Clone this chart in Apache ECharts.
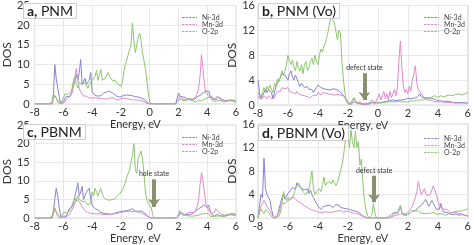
<!DOCTYPE html>
<html>
<head>
<meta charset="utf-8">
<script src="https://cdn.jsdelivr.net/npm/echarts@6/dist/echarts.min.js"></script>
<style>
  html, body { margin: 0; padding: 0; background: #fff; }
  #chart { width: 474px; height: 245px; }
</style>
</head>
<body>
<div id="chart"></div>
<script>
// energy grid (eV), shared by every curve
const energy = [
  -8, -7.9, -7.8, -7.7, -7.6, -7.5, -7.4, -7.3, -7.2, -7.1,
  -7, -6.9, -6.8, -6.7, -6.6, -6.5, -6.4, -6.3, -6.2, -6.1,
  -6, -5.9, -5.8, -5.7, -5.6, -5.5, -5.4, -5.3, -5.2, -5.1,
  -5, -4.9, -4.8, -4.7, -4.6, -4.5, -4.4, -4.3, -4.2, -4.1,
  -4, -3.9, -3.8, -3.7, -3.6, -3.5, -3.4, -3.3, -3.2, -3.1,
  -3, -2.9, -2.8, -2.7, -2.6, -2.5, -2.4, -2.3, -2.2, -2.1,
  -2, -1.9, -1.8, -1.7, -1.6, -1.5, -1.4, -1.3, -1.2, -1.1,
  -1, -0.9, -0.8, -0.7, -0.6, -0.5, -0.4, -0.3, -0.2, -0.1,
  0, 0.1, 0.2, 0.3, 0.4, 0.5, 0.6, 0.7, 0.8, 0.9,
  1, 1.1, 1.2, 1.3, 1.4, 1.5, 1.6, 1.7, 1.8, 1.9,
  2, 2.1, 2.2, 2.3, 2.4, 2.5, 2.6, 2.7, 2.8, 2.9,
  3, 3.1, 3.2, 3.3, 3.4, 3.5, 3.6, 3.7, 3.8, 3.9,
  4, 4.1, 4.2, 4.3, 4.4, 4.5, 4.6, 4.7, 4.8, 4.9,
  5, 5.1, 5.2, 5.3, 5.4, 5.5, 5.6, 5.7, 5.8, 5.9,
  6
];

// a, PNM
const niA = [
  0, 0, 0, 0, 0, 0, 0, 0, 0, 0,
  0, 0, 0, 2, 10, 6.5, 7, 2, 0.3, 0,
  0.5, 1, 2, 2.5, 1.8, 2, 3, 4.5, 6, 7.5,
  6, 8, 11.3, 5, 5.5, 6.5, 5, 4.5, 6, 8,
  3, 2.5, 2.2, 2.5, 2, 2.3, 2.1, 2.5, 2.8, 3,
  3, 3.2, 3.3, 3, 2.8, 2.5, 2.3, 2, 1.8, 1.7,
  1.8, 2, 2.2, 2, 2.3, 2.1, 2.2, 2.4, 2.1, 2,
  1.8, 2, 1.8, 1.6, 1.5, 1.3, 1.2, 0.9, 0.5, 0.2,
  0, 0, 0, 0, 0, 0, 0, 0, 0, 0,
  0, 0, 0, 0, 0, 0, 0, 0, 0, 0.5,
  2.8, 2, 1.5, 1.8, 2, 1.6, 1.5, 1.2, 1, 0.9,
  0.8, 1.2, 1.5, 1.8, 2, 2.2, 2.5, 2.8, 3, 3.2,
  3.5, 3.3, 2, 1.6, 1.5, 1.2, 1, 1.5, 1.8, 1.5,
  1.2, 1, 0.9, 0.8, 0.8, 0.9, 1, 1.1, 1, 0.8,
  0.5
];
const mnA = [
  0, 0, 0, 0, 0, 0, 0, 0, 0, 0,
  0, 0, 0, 1.2, 2.2, 1.5, 1.2, 0.5, 0, 0,
  0.2, 0.5, 0.8, 1.5, 1.2, 2, 3, 5, 7, 9,
  6, 4, 3, 2.5, 2, 2.5, 2, 1.6, 1.5, 1.8,
  1.5, 1.3, 1.6, 1.4, 1.5, 1.3, 1.4, 1.2, 1.3, 1.1,
  1.2, 1.3, 1.5, 1.4, 1.6, 1.5, 1.3, 1.1, 1, 1.1,
  1.3, 1.4, 1.5, 1.6, 1.4, 1.3, 1.2, 1.3, 1.1, 1,
  1, 1.1, 1, 0.9, 0.8, 0.8, 0.6, 0.4, 0.2, 0.1,
  0, 0, 0, 0, 0, 0, 0, 0, 0, 0,
  0, 0, 0, 0, 0, 0, 0, 0, 0, 0.3,
  1, 2, 1.5, 1.2, 1, 1.1, 1.2, 1.4, 1.5, 1.3,
  1.2, 1.3, 1.5, 2.5, 4, 7, 12.5, 9, 5, 3,
  2.5, 2, 1.5, 1.2, 1, 1.1, 1.2, 2, 1.5, 1.2,
  1, 0.9, 0.8, 0.9, 1, 1, 0.9, 0.8, 0.8, 0.6,
  0.5
];
const oA = [
  0, 0, 0, 0, 0, 0, 0, 0, 0, 0,
  0, 0, 0.5, 2.5, 3, 1.5, 0.5, 0, 0, 0.5,
  1.5, 2.5, 3, 2.5, 2, 3, 4, 6, 7, 5,
  4, 5.5, 6, 5, 4.5, 5.5, 5, 4, 5, 4.5,
  6, 5.5, 7, 8.5, 6, 5.5, 8.8, 6, 5.5, 6.5,
  7, 8, 7, 6.5, 6, 6.5, 6, 5.5, 5, 4.5,
  4.5, 5.5, 8, 10, 11, 12.5, 13, 15, 20.5, 16,
  13, 15, 17, 18, 16, 13, 11, 9, 6, 3,
  0.5, 0, 0, 0, 0, 0, 0, 0, 0, 0,
  0, 0, 0, 0, 0, 0, 0, 0, 0, 0.3,
  1, 1.5, 1.2, 1, 0.8, 0.9, 1, 1.2, 1.5, 1.1,
  0.8, 0.6, 0.5, 0.8, 1, 0.9, 0.8, 1, 1.2, 1.4,
  1.5, 1.7, 1.8, 1.2, 0.8, 0.6, 0.5, 0.8, 1, 0.9,
  0.8, 0.6, 0.5, 0.6, 0.7, 0.8, 0.9, 0.8, 0.9, 1,
  1
];

// b, PNM (Vo)
const niB = [
  4, 2, 1, 1.5, 2, 2.5, 2, 2.5, 2.8, 2,
  1, 2, 3, 3.5, 4, 4.5, 5, 5.3, 4.8, 4.5,
  4, 5, 5.5, 4.5, 4, 4.8, 4.2, 3.5, 3, 3.5,
  3.2, 2.8, 2.5, 3, 2.5, 2.2, 2.5, 2, 2.2, 2.8,
  3.2, 3, 2.8, 3, 2.6, 2.8, 2.5, 2.7, 2.4, 2.5,
  2.6, 2.3, 2.5, 2.2, 2.3, 2, 1.8, 1.5, 1.2, 0.8,
  0.4, 0.2, 0.1, 0.3, 0.5, 0.4, 0.3, 0.2, 0.2, 0.1,
  0.1, 0.1, 0.1, 0.2, 0.3, 0.5, 0.4, 0.3, 0.4, 0.3,
  0.3, 0.5, 0.4, 0.6, 0.5, 0.4, 0.6, 0.5, 0.7, 0.6,
  0.8, 0.6, 0.7, 0.9, 0.8, 1, 0.8, 0.7, 0.9, 1,
  1.1, 0.9, 1, 1.2, 1.1, 1.3, 1.2, 1.5, 1.8, 1.3,
  1.2, 1.1, 1.3, 1.2, 1, 1.1, 0.9, 1, 0.9, 0.8,
  0.8, 0.7, 0.7, 0.6, 0.7, 0.6, 0.5, 0.6, 0.5, 0.5,
  0.5, 0.4, 0.5, 0.4, 0.4, 0.4, 0.3, 0.4, 0.3, 0.3,
  0.3
];
const mnB = [
  1.5, 1, 0.8, 1, 1.5, 1.2, 1, 1.5, 1.2, 1,
  0.8, 1.2, 1.8, 2.2, 2.5, 2.2, 2.8, 3, 2.6, 2.4,
  2.8, 2.2, 2.5, 2, 2.3, 1.8, 2.2, 1.8, 2, 1.6,
  1.8, 1.5, 1.6, 1.3, 1.5, 1.2, 1.4, 1.6, 1.8, 1.5,
  2, 1.8, 1.6, 2, 1.7, 1.9, 1.6, 1.8, 1.5, 1.7,
  1.8, 1.6, 1.9, 1.7, 1.5, 1.6, 1.3, 1.5, 1.2, 0.8,
  0.5, 0.3, 0.2, 0.5, 1, 0.8, 0.4, 0.3, 0.5, 0.2,
  0.1, 0.1, 0.1, 0.2, 0.1, 0.3, 0.8, 0.5, 0.3, 0.5,
  1.2, 1.8, 0.8, 1.5, 2.2, 1, 1.8, 0.8, 2.2, 1.2,
  1.8, 2.5, 1.5, 2.8, 7, 10.3, 6, 3, 2, 2.5,
  1.8, 3, 2.2, 4, 5, 6.3, 3.5, 2.5, 2.8, 1.8,
  1.5, 1.2, 1, 0.8, 1, 0.8, 0.7, 0.6, 0.6, 0.5,
  0.5, 0.5, 0.4, 0.5, 0.4, 0.4, 0.5, 0.4, 0.4, 0.4,
  0.4, 0.3, 0.4, 0.3, 0.3, 0.3, 0.4, 0.3, 0.3, 0.3,
  0.3
];
const oB = [
  2, 1.5, 1, 2, 2.8, 2, 3, 2.5, 3.2, 2.5,
  2, 3.5, 3, 4.2, 3.8, 4.5, 5.5, 4.8, 5.5, 6.5,
  8, 7, 6.5, 7.2, 6, 5.5, 7, 6, 5.5, 6.5,
  5, 6.5, 7, 5.5, 6, 7, 7.5, 6.5, 8, 7,
  6.5, 8, 9, 8.5, 9.5, 10, 11, 12, 13.5, 14.2,
  14, 13.2, 13.5, 10.5, 12, 11.5, 7, 4, 2, 0.5,
  0.2, 0, 0.2, 0.8, 1.2, 0.8, 0.4, 0.6, 0.3, 0.2,
  0.2, 0.2, 0.3, 0.2, 0.1, 0.2, 0.4, 0.3, 0.2, 0.3,
  0.5, 0.4, 0.3, 0.5, 0.4, 0.6, 0.5, 0.4, 0.5, 0.6,
  0.5, 0.6, 0.5, 0.7, 0.6, 0.6, 0.5, 0.6, 0.5, 0.6,
  0.5, 0.6, 0.7, 0.6, 0.6, 0.7, 0.8, 0.7, 0.8, 0.9,
  0.8, 0.9, 1, 0.9, 1, 1, 1.3, 1.2, 1.5, 1.3,
  1.2, 1.4, 1.5, 1.3, 1.3, 1.4, 1.5, 1.6, 1.6, 1.5,
  1.5, 1.6, 1.7, 1.6, 1.8, 1.7, 1.6, 1.7, 1.8, 1.9,
  2
];

// c, PBNM
const niC = [
  0, 0, 0, 0, 0, 0, 0, 0, 0, 0,
  0, 0, 0, 1.5, 5, 8, 6, 3, 0.5, 0,
  0.5, 1, 0.5, 1.5, 2.5, 2, 3, 4, 6, 7.5,
  9.5, 6, 7, 8.5, 5, 6, 7, 7.5, 8, 5,
  3.5, 3, 2.5, 2, 2.2, 1.8, 1.5, 1.7, 1.3, 1.5,
  1.2, 1, 1.1, 0.9, 1, 1.2, 1.4, 1.6, 1.5, 1.7,
  1.8, 1.6, 1.9, 1.7, 2, 1.8, 2.2, 2, 2.5, 2.2,
  1.9, 2.1, 1.8, 2, 1.9, 1.7, 1.5, 1.2, 0.8, 0.3,
  0, 0, 0, 0, 0, 0, 0, 0, 0, 0,
  0, 0, 0, 0, 0, 0, 0, 0, 0, 0,
  0.5, 1, 1.5, 1.2, 1, 0.8, 1, 1.2, 0.8, 1,
  1.3, 1.5, 2, 2.2, 2.5, 2.8, 3, 3.2, 3.5, 3,
  2.8, 3.5, 2, 1, 0.8, 0.5, 0.8, 1, 0.8, 0.6,
  0.5, 0.6, 0.5, 0.6, 0.7, 0.8, 1, 1.2, 1, 1.1,
  1
];
const mnC = [
  0, 0, 0, 0, 0, 0, 0, 0, 0, 0,
  0, 0, 0, 1, 2.5, 2, 1, 0.3, 0, 0,
  0, 0, 0.3, 0.6, 1, 1.5, 2, 3, 4, 5,
  5.2, 4.5, 4, 3, 2.5, 2, 1.8, 1.5, 1.6, 1.3,
  1.5, 1.2, 1.4, 1.1, 1, 1.2, 0.9, 1, 0.8, 1,
  0.9, 1, 0.8, 1, 1.1, 1.2, 1.3, 1.2, 1.4, 1.5,
  1.4, 1.6, 1.5, 1.7, 1.6, 1.8, 2, 1.8, 2, 1.8,
  2, 1.7, 1.8, 1.5, 1.4, 1.2, 1, 0.8, 0.5, 0.3,
  0, 0, 0, 0, 0, 0, 0, 0, 0, 0,
  0, 0, 0, 0, 0, 0, 0, 0, 0, 0.2,
  1, 2, 1.5, 1, 0.8, 1, 1.2, 1.5, 1.3, 1.5,
  1.8, 1.5, 2, 3, 5, 9, 12.3, 10, 7, 4,
  3, 2, 1.5, 1.2, 1, 1.5, 2.5, 2, 1.5, 1.2,
  1, 0.9, 0.8, 0.9, 1, 1, 0.9, 0.8, 0.8, 0.7,
  0.7
];
const oC = [
  0, 0, 0, 0, 0, 0, 0, 0, 0, 0,
  0, 0, 0.5, 2, 2.8, 1.5, 0.5, 0, 0, 0.5,
  1.5, 2, 1.5, 1.2, 1.8, 2.5, 3.5, 4.5, 5.5, 4.5,
  6, 5, 5.5, 4.5, 4, 4.5, 5, 3.5, 3, 4,
  7, 6, 8, 7.5, 6, 5.5, 8, 6.5, 5.5, 6,
  5, 5, 4.8, 5.2, 5, 5.3, 5.2, 5.8, 6, 6.5,
  7, 7.5, 8.5, 9.5, 11, 12, 13, 15, 17, 20,
  13, 12, 16, 17, 18, 16, 12, 7, 5, 4,
  3.5, 3, 1, 0, 0, 0, 0, 0, 0, 0,
  0, 0, 0, 0, 0, 0, 0, 0, 0, 0.2,
  0.8, 1.5, 1.2, 0.8, 1, 0.7, 0.5, 0.6, 0.6, 0.5,
  0.5, 0.6, 0.6, 0.7, 0.8, 0.9, 1, 1.2, 1.5, 1.2,
  1, 1.3, 0.5, 0.4, 0.4, 0.5, 0.5, 0.6, 0.6, 0.5,
  0.5, 0.4, 0.4, 0.6, 0.8, 1, 1.2, 1, 0.8, 0.9,
  1
];

// d, PBNM (Vo)
const niD = [
  0, 2, 4, 3.5, 10.2, 5, 4, 3.8, 3, 1.5,
  0.5, 0, 0, 0.5, 1.5, 2.5, 3.5, 4, 3.2, 3.5,
  4.2, 4.5, 4.8, 5.2, 5.5, 5, 6, 5.5, 5.2, 5,
  5.3, 4.8, 4.5, 5, 4.2, 4.8, 4, 3.5, 3, 2.5,
  2, 1.8, 1.5, 1.8, 2, 1.8, 2.1, 1.9, 2.2, 2,
  1.8, 2.1, 2.3, 2, 2.2, 1.8, 2, 1.7, 1.9, 1.6,
  1.8, 1.5, 1.6, 1.3, 1.4, 1.2, 1.3, 1, 0.8, 0.6,
  0.4, 0.2, 0.1, 0, 0, 0, 0, 0, 0, 0,
  0, 0, 0, 0, 0, 0, 0, 0.2, 0.4, 0.6,
  0.8, 1, 1.2, 0.8, 1.5, 2, 1, 0.6, 0.4, 0.5,
  0.6, 0.8, 1, 1.2, 1, 1.3, 1.5, 1.8, 2, 2.2,
  2.5, 2.8, 3.2, 2.5, 2, 2.5, 3, 2.5, 2, 1.5,
  1.2, 1.5, 2.5, 1.5, 1, 0.8, 1, 0.8, 0.7, 0.8,
  0.6, 0.7, 0.7, 0.6, 0.5, 0.6, 0.6, 0.5, 0.5, 0.4,
  0.4
];
const mnD = [
  0, 1, 2, 2.5, 3, 2.5, 2, 1.8, 1.2, 0.8,
  0.3, 0, 0, 0.3, 1, 1.8, 2.5, 2.8, 2.5, 2.8,
  3, 3.2, 3.5, 3.3, 3.6, 3.2, 3, 2.8, 2.6, 2.5,
  2.3, 2.1, 2, 1.8, 1.7, 1.5, 1.4, 1.3, 1.2, 1.1,
  1.2, 1, 1.1, 0.9, 1, 1.1, 0.9, 1, 1.1, 1,
  1.2, 1.1, 1.3, 1.2, 1.1, 1.3, 1.2, 1, 1.1, 1.2,
  1, 1.1, 1, 0.9, 1, 0.8, 0.9, 0.7, 0.6, 0.4,
  0.3, 0.2, 0.1, 0, 0, 0, 0, 0, 0, 0,
  0, 0, 0, 0, 0, 0, 0, 0, 0, 0.2,
  0.3, 0.4, 0.5, 0.5, 0.6, 0.7, 0.8, 0.7, 0.7, 0.8,
  1, 1.2, 1.5, 2, 2.8, 3.5, 4.5, 6.2, 5, 4,
  4.5, 5, 4.2, 3.8, 3.5, 4, 4.8, 5.5, 5.8, 4,
  3, 2.2, 1.8, 2, 1.5, 1.2, 1.5, 1.2, 1, 1.1,
  0.9, 1, 1, 0.9, 0.8, 0.8, 0.7, 0.6, 0.5, 0.4,
  0.3
];
const oD = [
  0, 1, 1.5, 1.2, 0.8, 1.5, 1.2, 1, 0.6, 0.3,
  0, 0, 0, 0, 0.3, 1, 2.5, 4.5, 3.5, 3,
  3.5, 3, 2.8, 3.5, 4, 5, 5.5, 6, 5.5, 5,
  4.5, 4.2, 4, 4.5, 5, 6.5, 8, 5, 4, 4.5,
  4.2, 5, 4.5, 5.5, 7, 5.5, 6, 5.8, 6.2, 5.8,
  6.5, 6, 5.5, 6, 7, 8, 9, 10.5, 12.5, 15.5,
  14.5, 12, 15, 13, 12, 14.7, 12, 13, 9, 10,
  6, 3, 1.5, 0.5, 0, 0, 0.5, 2.5, 1, 0,
  0, 0, 0, 0, 0, 0, 0, 0, 0, 0.2,
  0.5, 0.8, 1, 0.8, 1.2, 2.2, 1, 0.5, 0.4, 0.5,
  0.6, 0.8, 1, 1.2, 1.5, 1.2, 1, 1.2, 1, 0.8,
  0.9, 0.8, 0.7, 0.8, 0.7, 0.8, 0.9, 1, 0.8, 0.7,
  0.8, 0.7, 0.6, 0.7, 0.6, 0.5, 0.6, 0.7, 0.8, 0.9,
  1, 1.1, 1, 1.2, 1.3, 1.2, 1.4, 1.3, 1.4, 1.5,
  1.5
];

const seriesNames = ["Ni-3d", "Mn-3d", "O-2p"];
const panelLetters = ["a", "b", "c", "d"];
const panelTitles = ["PNM", "PNM (Vo)", "PBNM", "PBNM (Vo)"];
const yMax = [25, 16, 25, 16];
const yStep = [5, 4, 5, 4];
const panelData = [
  [niA, mnA, oA],
  [niB, mnB, oB],
  [niC, mnC, oC],
  [niD, mnD, oD],
];

// arrow notes: panel index, text, energy, arrow start DOS, arrow tip DOS
const notePanel = [1, 2, 3];
const noteText = ["defect state", "hole state", "defect state"];
const noteEnergy = [-0.9, 0.3, -0.25];
const noteFrom = [5.1, 10.4, 7.2];
const noteTo = [0.8, 3.0, 2.7];

const colors = ["#8583d2", "#e388cc", "#8cc66c"];
const font = "Lato, 'Open Sans', sans-serif";
// short dashed stroke for the legend keys
const dashIcon = "path://M0,0h2.4v1h-2.4zM3.5,0h2.4v1h-2.4zM7,0h2.4v1h-2.4zM10.5,0h2.4v1h-2.4zM14,0h1v1h-1z";

// layout (pixels)
const gridBoxes = [
  { left: 23, top: 4, width: 213, height: 100 },
  { left: 258, top: 4, width: 212, height: 101 },
  { left: 23, top: 125, width: 213, height: 99 },
  { left: 258, top: 124, width: 212, height: 101 },
];
const yNameGap = [13, 9, 13, 9];
const legendPos = [[177, 9], [419, 9], [177, 129], [419, 130]];
const titlePos = [[23, 3], [258, 3], [23, 124], [258, 125]];

const chart = echarts.init(document.getElementById("chart"), null, { renderer: "canvas" });

const grid = [], xAxis = [], yAxis = [], series = [], legend = [], title = [];

gridBoxes.forEach((box, p) => {
  grid.push({ ...box, show: true, borderColor: "#d4d4d4", borderWidth: 1 });

  xAxis.push({
    type: "value",
    gridIndex: p,
    min: -8,
    max: 6,
    interval: 2,
    axisLine: { show: false },
    axisTick: { show: false },
    splitLine: { lineStyle: { color: "#e8e8e8" } },
    axisLabel: { fontSize: 11, color: "#333", margin: 3, fontFamily: font },
    name: "Energy, eV",
    nameLocation: "middle",
    nameGap: 8,
    nameTextStyle: { fontSize: 11, color: "#333", fontFamily: font },
  });

  yAxis.push({
    type: "value",
    gridIndex: p,
    min: 0,
    max: yMax[p],
    interval: yStep[p],
    axisLine: { show: false },
    axisTick: { show: false },
    splitLine: { lineStyle: { color: "#e8e8e8" } },
    axisLabel: { fontSize: 11, color: "#333", margin: p % 2 ? 3 : 5, fontFamily: font },
    name: "DOS",
    nameLocation: "middle",
    nameGap: yNameGap[p],
    nameTextStyle: { fontSize: 12, color: "#333", fontFamily: font },
  });

  title.push({
    text: "{b|" + panelLetters[p] + ",} " + panelTitles[p],
    left: titlePos[p][0],
    top: titlePos[p][1],
    padding: [1, 4, 1, 4],
    backgroundColor: "#fff",
    borderColor: "#cfcfcf",
    borderWidth: 1,
    textStyle: {
      fontSize: 14,
      fontWeight: "normal",
      color: "#222",
      fontFamily: font,
      rich: { b: { fontSize: 14, fontWeight: "bold", color: "#222", fontFamily: font } },
    },
  });

  legend.push({
    data: seriesNames.map((name, k) => ({
      name,
      icon: dashIcon,
      itemStyle: { color: colors[k], opacity: 1 },
    })),
    orient: "vertical",
    left: legendPos[p][0],
    top: legendPos[p][1],
    itemWidth: 15,
    itemHeight: 6,
    itemGap: 0,
    selectedMode: false,
    textStyle: { fontSize: 7, lineHeight: 6, color: "#444", fontFamily: font },
  });

  panelData[p].forEach((values, k) => {
    series.push({
      name: seriesNames[k],
      type: "line",
      xAxisIndex: p,
      yAxisIndex: p,
      symbol: "none",
      silent: true,
      color: colors[k],
      lineStyle: { width: 1, color: colors[k] },
      data: energy.map((e, i) => [e, values[i]]),
    });
  });
});

// arrows with their captions, attached to the O-2p curve of each panel
notePanel.forEach((p, n) => {
  const s = series[p * 3 + 2];
  s.markLine = {
    silent: true,
    symbol: ["none", "arrow"],
    symbolSize: [9, 8],
    lineStyle: { color: "#8a8f6c", width: 4, type: "solid" },
    label: {
      show: true,
      position: "start",
      distance: 2,
      formatter: noteText[n],
      fontSize: 7,
      color: "#333",
      fontFamily: font,
    },
    data: [[
      { coord: [noteEnergy[n], noteFrom[n]] },
      { coord: [noteEnergy[n], noteTo[n]] },
    ]],
  };
});

chart.setOption({
  animation: false,
  backgroundColor: "#fff",
  title,
  grid,
  xAxis,
  yAxis,
  legend,
  series,
});
</script>
</body>
</html>
